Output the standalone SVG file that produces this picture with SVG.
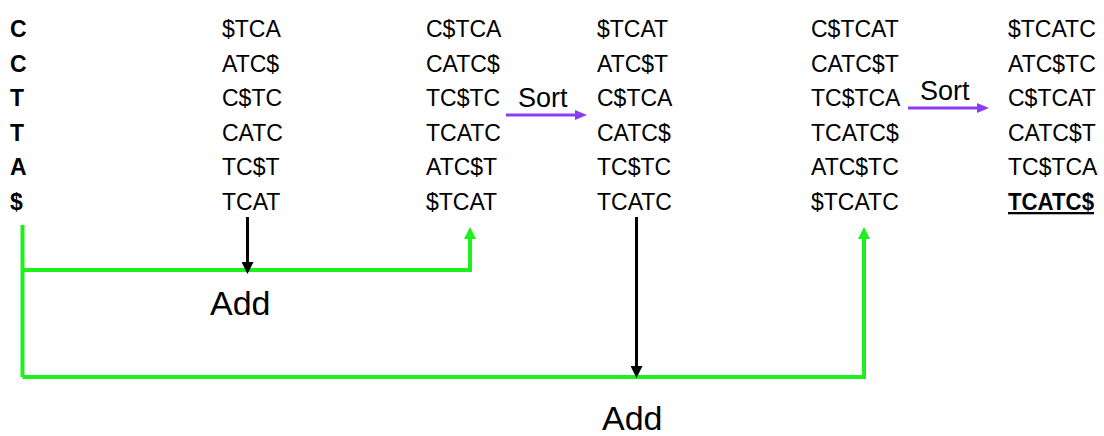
<svg xmlns="http://www.w3.org/2000/svg" width="1104" height="436" viewBox="0 0 1104 436">
<style>
  text { font-family: "Liberation Sans", Arial, sans-serif; fill: #000; }
  .t { font-size: 23px; }
  .b { font-size: 23px; font-weight: bold; }
  .lbl { font-size: 27px; }
  .add { font-size: 34px; }
  .g { stroke: #1EF01E; stroke-width: 4; fill: none; }
  .k { stroke: #000; stroke-width: 3; fill: none; }
  .p { stroke: #8C3CF5; stroke-width: 3; fill: none; }
</style>
<defs>
  <marker id="ag" markerUnits="userSpaceOnUse" markerWidth="12" markerHeight="12" refX="0" refY="5.5" orient="auto" viewBox="0 0 11 11">
    <path d="M0,0 L11,5.5 L0,11 z" fill="#1EF01E"/>
  </marker>
  <marker id="ak" markerUnits="userSpaceOnUse" markerWidth="12" markerHeight="12" refX="0" refY="5.5" orient="auto" viewBox="0 0 11 11">
    <path d="M0,0 L11,5.5 L0,11 z" fill="#000"/>
  </marker>
  <marker id="ap" markerUnits="userSpaceOnUse" markerWidth="12" markerHeight="12" refX="0" refY="5" orient="auto" viewBox="0 0 12 10">
    <path d="M0,0 L12,5 L0,10 z" fill="#8C3CF5"/>
  </marker>
</defs>

<g id="col1">
  <text class="b" x="10" y="37">C</text>
  <text class="b" x="10" y="71.6">C</text>
  <text class="b" x="10" y="106.2">T</text>
  <text class="b" x="10" y="140.8">T</text>
  <text class="b" x="10" y="175.4">A</text>
  <text class="b" x="10" y="210">$</text>
</g>
<g id="col2">
  <text class="t" x="222" y="37">$TCA</text>
  <text class="t" x="222" y="71.6">ATC$</text>
  <text class="t" x="222" y="106.2">C$TC</text>
  <text class="t" x="222" y="140.8">CATC</text>
  <text class="t" x="222" y="175.4">TC$T</text>
  <text class="t" x="222" y="210">TCAT</text>
</g>
<g id="col3">
  <text class="t" x="426" y="37">C$TCA</text>
  <text class="t" x="426" y="71.6">CATC$</text>
  <text class="t" x="426" y="106.2">TC$TC</text>
  <text class="t" x="426" y="140.8">TCATC</text>
  <text class="t" x="426" y="175.4">ATC$T</text>
  <text class="t" x="426" y="210">$TCAT</text>
</g>
<g id="col4">
  <text class="t" x="597" y="37">$TCAT</text>
  <text class="t" x="597" y="71.6">ATC$T</text>
  <text class="t" x="597" y="106.2">C$TCA</text>
  <text class="t" x="597" y="140.8">CATC$</text>
  <text class="t" x="597" y="175.4">TC$TC</text>
  <text class="t" x="597" y="210">TCATC</text>
</g>
<g id="col5">
  <text class="t" x="811" y="37">C$TCAT</text>
  <text class="t" x="811" y="71.6">CATC$T</text>
  <text class="t" x="811" y="106.2">TC$TCA</text>
  <text class="t" x="811" y="140.8">TCATC$</text>
  <text class="t" x="811" y="175.4">ATC$TC</text>
  <text class="t" x="811" y="210">$TCATC</text>
</g>
<g id="col6">
  <text class="t" x="1008" y="37">$TCATC</text>
  <text class="t" x="1008" y="71.6">ATC$TC</text>
  <text class="t" x="1008" y="106.2">C$TCAT</text>
  <text class="t" x="1008" y="140.8">CATC$T</text>
  <text class="t" x="1008" y="175.4">TC$TCA</text>
  <text class="b" x="1008" y="210" text-decoration="underline" textLength="86" lengthAdjust="spacingAndGlyphs">TCATC$</text>
</g>

<g id="labels">
  <text class="lbl" x="518" y="107">Sort</text>
  <text class="lbl" x="920" y="100">Sort</text>
  <text class="add" x="210" y="315">Add</text>
  <text class="add" x="602" y="430">Add</text>
</g>

<g id="connectors">
  <path class="p" d="M506,115 L575,115" marker-end="url(#ap)"/>
  <path class="p" d="M908,108 L977,108" marker-end="url(#ap)"/>
  <path class="g" d="M22.5,225 L22.5,377"/>
  <path class="g" d="M22.5,270 L470,270 L470,239" marker-end="url(#ag)"/>
  <path class="g" d="M22.5,377 L864,377 L864,239" marker-end="url(#ag)"/>
  <path class="k" d="M247.5,217 L247.5,262" marker-end="url(#ak)"/>
  <path class="k" d="M636.5,217 L636.5,366" marker-end="url(#ak)"/>
</g>
</svg>
